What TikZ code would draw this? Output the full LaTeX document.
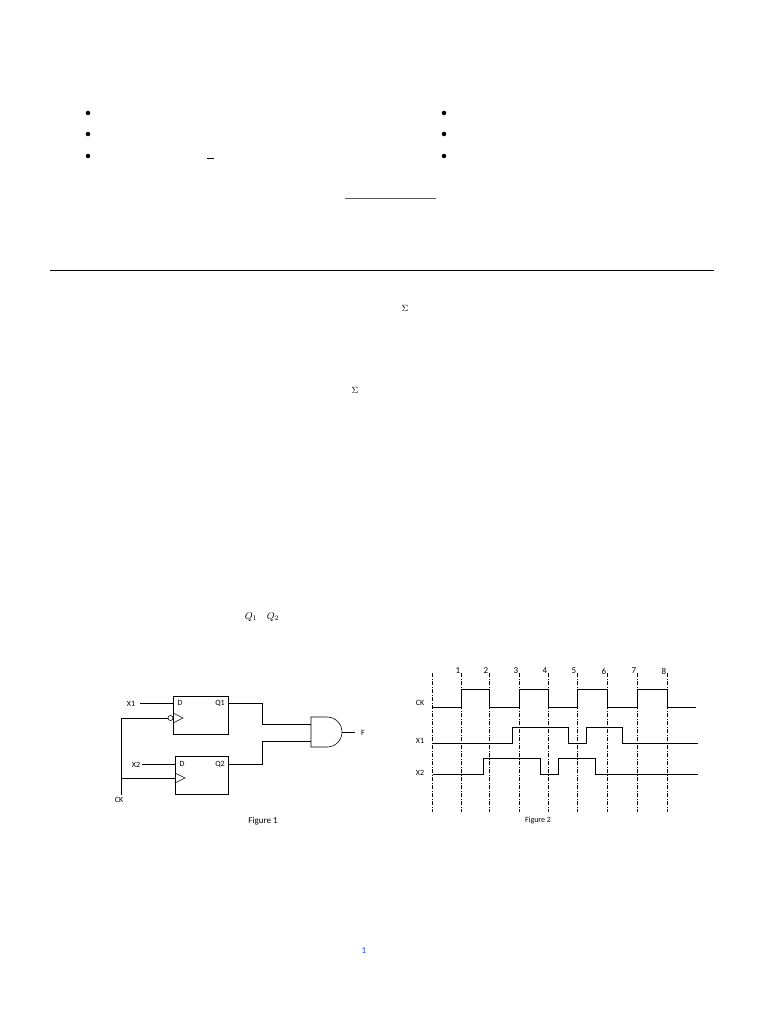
\documentclass[tikz,border=0pt]{standalone}
\usepackage{fontspec}
\setmainfont{Carlito}
\usepackage{amsmath}
\begin{document}
\begin{tikzpicture}[x=1pt,y=-1pt,
  lbl/.style={inner sep=0pt,font=\fontsize{8}{9}\selectfont},
  wire/.style={line width=0.6pt},
  dd/.style={line width=0.5pt,dash pattern=on 4pt off 1.5pt on 1pt off 1.5pt},
  sig/.style={line width=0.7pt}]
\useasboundingbox (0,0) rectangle (768,1024);
% top
\foreach \y/\n in {113/a,134/b,156/c}{
  \node[circle,fill,inner sep=1.6pt] (bl\n) at (88,\y) {};
  \node[circle,fill,inner sep=1.6pt] (br\n) at (444,\y) {};}
\draw[line width=0.8pt] (207,158) -- (214,158);
\draw[line width=0.8pt,gray!70!black] (345,198) -- (436,198);
\draw[line width=0.6pt] (50,270) -- (714,270);
\node (s1) at (405,308) {\small$\Sigma$};
\node (s2) at (355,390) {\small$\Sigma$};
\node (q1) at (251,617) {$Q_1$};
\node (q2) at (273,617) {$Q_2$};
\node[text=blue!70!cyan] (pg) at (364,951) {\small 1};
% figure 1
\node[draw,wire,minimum width=55pt,minimum height=38pt,inner sep=0pt] (ff1) at (200.5,715) {};
\node[draw,wire,minimum width=53pt,minimum height=38pt,inner sep=0pt] (ff2) at (201.5,775) {};
\node[lbl] (d1) at (180,703) {D};
\node[lbl] (q1o) at (220,703) {Q1};
\node[lbl] (d2) at (182,764) {D};
\node[lbl] (q2o) at (220,764) {Q2};
\draw[wire] (173,713) -- (183,718) -- (173,723);
\draw[wire] (175,773) -- (185,778) -- (175,783);
\node[draw,circle,wire,inner sep=0pt,minimum size=5pt] (bub) at (170.5,718) {};
\node[lbl] (x1) at (131,704) {X1};
\node[lbl] (x2) at (136,765) {X2};
\node[lbl] (ck) at (119,800) {CK};
\coordinate (x1e) at (140,703);
\coordinate (x2e) at (142,764);
\draw[wire] (x1e) -- (ff1.west |- x1e);
\draw[wire] (x2e) -- (ff2.west |- x2e);
\coordinate (ckb) at (121,795);
\draw[wire] (ckb) -- (121,718) -- (bub.west);
\draw[wire] (121,778) -- (ff2.west |- 0,778);
% AND gate
\draw[wire] (327,717) -- (311,717) -- (311,747) -- (327,747) arc (90:-90:15);
\coordinate (ando) at (342,732);
\node[lbl] (f) at (363,733) {F};
\draw[wire] (ando) -- (355,732);
\draw[wire] (ff1.east |- 0,703) -- (262,703) -- (262,724) -- (311,724);
\draw[wire] (ff2.east |- 0,764) -- (262,764) -- (262,741) -- (311,741);
\node[lbl,font=\fontsize{9}{10}\selectfont] (fig1) at (263,821) {Figure 1};
% figure 2
\foreach \x in {432,461,489,519,548,577,607,637,667}{
  \draw[dd] (\x,673) -- (\x,812);}
\foreach \x/\n in {461/1,489/2,519/3,548/4,577/5,607/6,637/7,667/8}{
  \node[lbl,font=\fontsize{9}{10}\selectfont] (n\n) at (\x-3,671) {\n};}
\node[lbl] (ckl) at (420,703) {CK};
\node[lbl] (x1l) at (420,741) {X1};
\node[lbl] (x2l) at (420,773) {X2};
\draw[sig] (433,707) -- (461,707) -- (461,689) -- (489,689) -- (489,707) -- (519,707) -- (519,689) -- (548,689) -- (548,707) -- (577,707) -- (577,689) -- (607,689) -- (607,707) -- (637,707) -- (637,689) -- (667,689) -- (667,707) -- (696,707);
\draw[sig] (433,743) -- (512,743) -- (512,727) -- (568,727) -- (568,743) -- (586,743) -- (586,727) -- (622,727) -- (622,743) -- (698,743);
\draw[sig] (433,774) -- (483,774) -- (483,758) -- (540,758) -- (540,774) -- (558,774) -- (558,758) -- (595,758) -- (595,774) -- (698,774);
\node[lbl] (fig2) at (538,820) {Figure 2};
\end{tikzpicture}
\end{document}
